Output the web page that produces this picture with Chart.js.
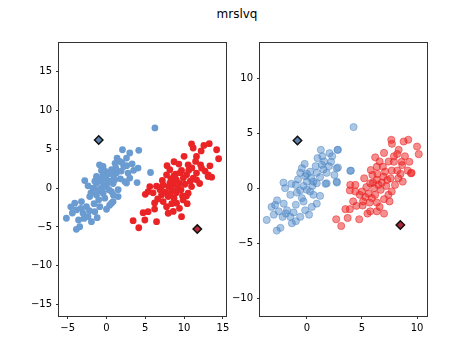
<!DOCTYPE html>
<html><head><meta charset="utf-8">
<script src="https://cdn.jsdelivr.net/npm/chart.js@4.4.1/dist/chart.umd.min.js"></script>
<style>
html,body{margin:0;padding:0;background:#fff;width:474px;height:355px;overflow:hidden}
#t{position:absolute;left:0;top:6px;width:474px;text-align:center;font:12px "DejaVu Sans";line-height:16px;color:#000}
canvas{position:absolute;top:0}
</style></head><body>
<div id="t">mrslvq</div>
<canvas id="c1" width="240" height="355" style="left:0px"></canvas>
<canvas id="c2" width="254" height="355" style="left:220px"></canvas>
<script>
// ---- data ----
const leftBlue = [[6.24,7.76],[4.16,4.87],[2.06,4.95],[3.0,4.53],[1.36,3.88],[2.58,3.88],[1.71,3.44],[3.3,3.14],[4.07,2.59],[5.67,2.02],[2.23,2.8],[-0.44,2.8],[0.64,2.37],[-0.65,2.28],[1.28,1.94],[2.78,1.94],[0.07,1.72],[-1.29,1.5],[-2.8,0.98],[3.94,0.72],[-2.38,0.3],[-1.29,0.65],[-0.65,0.85],[1.07,1.07],[2.36,0.85],
[-5.17,-3.88],[-3.88,-5.3],[-3.45,-4.97],[-4.09,-1.94],[-3.23,-1.73],[-3.88,-2.81],[-3.02,-3.23],[-2.38,-3.67],[-1.94,-4.32],[-2.58,-2.38],[-1.51,-3.03],[-0.87,-2.38],[0.0,-2.72],[0.85,-1.73],[-2.16,-1.09],[-1.29,-0.87],[-0.44,-0.65],[0.64,-0.44],[1.5,-0.2],[-1.09,1.07],[0.0,0.43],[0.85,0.6],[2.58,0.65],[3.0,1.3],[-1.73,0.0],[-0.65,0.0],[-0.22,-1.29],[1.5,-1.09],[0.64,-1.94],
[-0.3,0.2],[0.3,-0.2],[-0.8,-0.3],[0.5,0.9],[-0.1,1.3],[0.9,1.6],[1.8,1.2],[1.2,2.6],[-0.2,2.2],[0.2,0.8],[-1.0,-1.5],[-1.6,-2.0],[-2.2,-2.9],[-2.9,-3.9],[-3.3,-2.6],[-4.4,-3.2],[-3.6,-4.1],[-1.2,-0.2],[0.9,-0.9],[1.9,2.2],[2.0,3.3],[1.1,3.2],[-0.5,1.6],[0.3,1.9],[-1.5,0.9],[-2.0,-0.6],[-4.6,-2.4],[-1.2,-3.8],[0.4,-2.2],[2.6,2.9],[3.5,2.3],[-0.9,3.0]];
const leftRed = [[10.96,5.69],[11.17,5.17],[12.55,5.51],[13.24,5.73],[14.19,4.95],[14.45,3.79],[11.6,4.09],[11.48,3.44],[10.52,3.01],[9.32,3.1],[9.67,2.28],[12.12,3.01],[12.25,2.59],[13.33,2.88],[13.11,1.72],[13.55,1.42],[8.16,2.37],[7.74,1.72],[8.68,1.59],[10.32,1.72],[11.17,1.29],[11.6,1.94],
[3.43,-4.19],[4.16,-5.1],[4.94,-4.1],[6.45,-4.32],[4.72,-3.16],[5.36,-3.03],[6.2,-2.7],[5.58,0.2],[6.45,0.26],[5.36,-0.44],[6.0,-0.6],[7.09,-0.87],[7.3,-1.73],[7.74,-2.38],[7.95,-3.23],[8.6,-3.0],[9.67,-3.67],[9.03,-1.94],[9.88,-1.51],[10.52,-0.65],[10.96,0.2],[11.6,1.07],[13.1,1.5],[8.16,0.65],[9.0,1.07],[9.9,1.3],[8.4,-0.2],[9.2,0.0],[7.3,0.4],[6.9,-0.2],[7.95,-1.09],[8.7,-1.3],
[8.0,0.2],[8.6,0.5],[9.4,0.6],[7.6,-0.5],[8.2,-0.7],[9.0,-0.6],[9.6,-0.2],[10.1,0.5],[8.9,1.8],[9.5,2.0],[10.6,2.3],[7.2,1.0],[6.6,-1.4],[8.4,-2.0],[9.4,-2.6],[10.3,-1.0],[10.8,0.9],[12.0,0.6],[12.7,2.2],[11.0,2.6],[7.8,2.9],[8.7,3.4],[10.0,4.1],[6.2,-1.9],[5.0,-0.8],[7.0,0.1],[8.3,1.2],[9.8,-1.0],[10.4,-2.0],[12.2,4.8]];
const leftProtoBlue = [[-1.0,6.2]];
const leftProtoRed = [[11.7,-5.27]];

const rightBlue = [[4.24,5.55],[1.27,3.48],[2.06,3.18],[2.82,3.48],[0.97,2.73],[1.57,2.42],[2.3,2.9],[1.36,2.12],[2.0,2.0],[2.82,1.88],[3.94,1.57],[-0.45,1.82],[0.3,1.5],[0.9,1.4],[1.8,1.4],[-0.6,1.4],[-0.15,1.1],[-2.12,0.51],[-1.0,0.3],[2.73,0.51],[1.7,0.4],[0.6,0.6],
[-3.64,-2.88],[-2.73,-3.85],[-2.4,-3.6],[-2.88,-1.52],[-2.7,-1.1],[-2.1,-1.4],[-2.55,-2.1],[-1.9,-2.3],[-1.5,-2.6],[-1.2,-2.2],[-1.36,-3.18],[-0.6,-2.6],[-0.15,-2.0],[0.45,-1.7],[0.9,-1.4],[-1.5,-0.6],[-0.9,-0.4],[-1.97,0.0],[0.0,0.6],[0.0,-0.15],[0.9,0.45],[1.8,0.45],[2.7,0.6],[-0.45,-0.9],[1.2,-0.7],[2.78,3.48],[2.7,1.8],[4.0,1.6],
[-0.3,0.2],[0.3,-0.3],[-0.6,-0.2],[0.4,0.9],[0.0,1.3],[1.2,1.0],[0.8,2.0],[-0.3,-1.2],[-1.0,-1.5],[-1.8,-2.0],[-2.2,-2.6],[-3.0,-2.4],[0.6,-0.6],[1.5,1.7],[1.4,2.9],[-0.8,0.8],[-1.4,0.4],[-3.2,-1.7],[-1.0,-3.0],[0.2,-2.4],[2.2,2.4],[2.5,1.2],[-0.2,2.2],[0.5,0.2]];
const rightRed = [[7.66,4.39],[7.72,4.03],[8.78,4.24],[9.2,4.4],[10.0,3.78],[10.15,3.09],[8.33,3.48],[8.2,3.1],[7.9,2.9],[7.42,2.42],[7.9,2.4],[8.6,2.4],[8.65,2.1],[9.3,2.4],[9.15,1.6],[9.45,1.35],[6.6,2.42],[6.35,1.95],[6.9,1.95],[7.7,1.6],[8.2,1.6],[5.8,1.65],[5.95,1.2],[8.5,1.3],
[2.66,-2.82],[3.12,-3.43],[3.7,-2.7],[4.75,-2.82],[3.5,-1.9],[3.9,-1.9],[4.5,-1.6],[5.06,-1.57],[3.94,0.3],[4.4,0.3],[3.9,-0.2],[4.4,-0.3],[5.0,-0.3],[5.3,-0.8],[5.1,-1.2],[5.7,-1.3],[5.75,-2.1],[6.35,-2.1],[7.0,-2.3],[6.35,-1.3],[7.0,-1.0],[7.7,-0.3],[8.0,0.3],[8.3,0.9],[9.5,1.4],[5.75,0.45],[6.35,0.75],[6.95,1.05],[6.1,0.0],[6.7,-0.15],[7.3,0.75],
[5.4,0.1],[6.0,0.5],[6.5,0.3],[5.6,-0.5],[6.2,-0.6],[6.8,0.5],[7.2,0.2],[6.4,1.3],[7.1,1.5],[5.2,0.9],[4.8,-0.6],[5.9,-0.9],[6.6,-1.7],[7.5,-1.2],[7.6,0.9],[8.7,0.6],[8.9,2.9],[7.0,3.2],[7.4,-0.6],[5.5,-2.3],[4.2,-1.2],[6.2,2.8]];
const rightProtoBlue = [[-0.85,4.33]];
const rightProtoRed = [[8.48,-3.34]];

const leftXTicks = [-5,0,5,10,15];
const leftYTicks = [-15,-10,-5,0,5,10,15];
const rightXTicks = [0,5,10];
const rightYTicks = [-10,-5,0,5,10];

// ---- drawing ----
const rgba = (c,a)=>`rgba(${c[0]},${c[1]},${c[2]},${a})`;
const pts = arr => arr.map(p=>({x:p[0],y:p[1]}));
const frame = {id:'frame', afterDatasetsDraw(c){const a=c.chartArea,x=c.ctx;x.save();x.strokeStyle='#333';x.lineWidth=1;
  x.strokeRect(Math.round(a.left)-0.5,Math.round(a.top)-0.5,Math.round(a.right-a.left)+1,Math.round(a.bottom-a.top)+1);x.restore();}};
const fmt = v => String(v).replace('-','\u2212');

function makeChart(id, blue, red, pb, pr, xr, yr, xt, yt, st, yw, padR){
  const tickFont = {family:'DejaVu Sans', size:10};
  new Chart(document.getElementById(id), {
    type:'scatter',
    data:{datasets:[
      {data:pts(pb), pointStyle:'rectRot', pointRadius:4.2, backgroundColor:st.pbFill, borderColor:'#111', borderWidth:1.5},
      {data:pts(pr), pointStyle:'rectRot', pointRadius:4.2, backgroundColor:st.prFill, borderColor:'#111', borderWidth:1.5},
      {data:pts(blue), pointRadius:st.r, backgroundColor:st.bFill, borderColor:st.bEdge, borderWidth:st.bw},
      {data:pts(red), pointRadius:st.r, backgroundColor:st.rFill, borderColor:st.rEdge, borderWidth:st.bw}
    ]},
    options:{responsive:false, animation:false,
      layout:{padding:{left:0,right:padR,top:43,bottom:0}},
      plugins:{legend:{display:false}, tooltip:{enabled:false}},
      scales:{
        x:{type:'linear', min:xr[0], max:xr[1],
           afterBuildTicks:s=>{s.ticks = xt.map(v=>({value:v}));},
           afterFit:s=>{s.height = 39;},
           grid:{drawOnChartArea:false, drawTicks:true, tickLength:3, tickColor:'#333'},
           border:{display:false},
           ticks:{color:'#000', font:tickFont, padding:3, maxRotation:0, autoSkip:false, callback:fmt}},
        y:{type:'linear', min:yr[0], max:yr[1],
           afterBuildTicks:s=>{s.ticks = yt.map(v=>({value:v}));},
           afterFit:s=>{s.width = yw;},
           grid:{drawOnChartArea:false, drawTicks:true, tickLength:3, tickColor:'#333'},
           border:{display:false},
           ticks:{color:'#000', font:tickFont, padding:4, autoSkip:false, callback:fmt}}
      }
    },
    plugins:[frame]
  });
}
const leftStyle = {r:3.4, bw:0, bFill:'rgb(106,155,209)', bEdge:'rgb(106,155,209)', rFill:'rgb(234,36,38)', rEdge:'rgb(234,36,38)',
  pbFill:'rgb(92,128,170)', prFill:'rgb(190,40,60)'};
const rightStyle = {r:3.6, bw:1, bFill:'rgba(70,130,195,0.45)', bEdge:'rgba(70,130,195,0.45)', rFill:'rgba(235,30,30,0.5)', rEdge:'rgba(235,30,30,0.5)',
  pbFill:'rgb(92,128,170)', prFill:'rgb(170,40,55)'};
makeChart('c1', leftBlue, leftRed, leftProtoBlue, leftProtoRed, [-6.12,15.4], [-16.47,18.7], leftXTicks, leftYTicks, leftStyle, 59, 14);
makeChart('c2', rightBlue, rightRed, rightProtoBlue, rightProtoRed, [-4.25,10.9], [-11.6,13.18], rightXTicks, rightYTicks, rightStyle, 40, 47);
</script>
</body></html>
